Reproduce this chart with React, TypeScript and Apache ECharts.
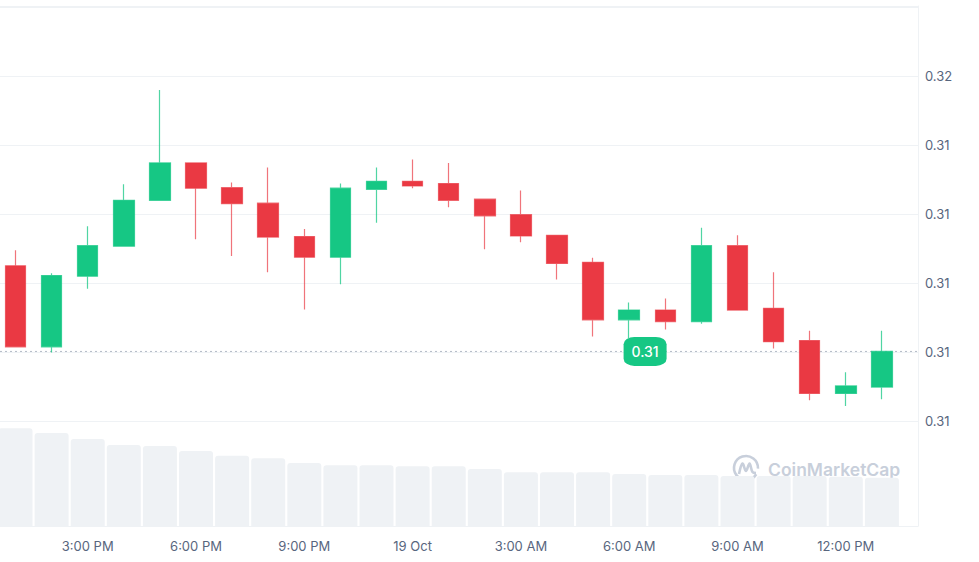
import React, { useEffect, useRef } from "react";
import * as echarts from "echarts";

const categories = [
  "1:00 PM", "2:00 PM", "3:00 PM", "4:00 PM", "5:00 PM", "6:00 PM", "7:00 PM", "8:00 PM",
  "9:00 PM", "10:00 PM", "11:00 PM", "19 Oct", "1:00 AM", "2:00 AM", "3:00 AM", "4:00 AM",
  "5:00 AM", "6:00 AM", "7:00 AM", "8:00 AM", "9:00 AM", "10:00 AM", "11:00 AM", "12:00 PM", "1:00 PM",
];
const opens = [
  0.3123, 0.31089, 0.31212, 0.31264, 0.31344, 0.31409, 0.31366, 0.31339, 0.31281, 0.31245,
  0.31363, 0.31377, 0.31373, 0.31346, 0.31319, 0.31283, 0.31236, 0.31136, 0.31153, 0.31133,
  0.31265, 0.31156, 0.311, 0.31008, 0.31019,
];
const highs = [
  0.31257, 0.31217, 0.31299, 0.31372, 0.31536, 0.31409, 0.31375, 0.31401, 0.31294, 0.31373,
  0.31401, 0.31415, 0.31409, 0.31346, 0.31361, 0.31283, 0.31244, 0.31166, 0.31173, 0.31296,
  0.31283, 0.31219, 0.31117, 0.31045, 0.31117,
];
const lows = [
  0.31088, 0.31079, 0.3119, 0.31264, 0.31344, 0.31276, 0.31247, 0.31219, 0.31154, 0.31198,
  0.31305, 0.31365, 0.31332, 0.31259, 0.31271, 0.31206, 0.31107, 0.31104, 0.31119, 0.31129,
  0.31153, 0.31086, 0.30996, 0.30986, 0.30998,
];
const closes = [
  0.31089, 0.31213, 0.31265, 0.31344, 0.31409, 0.31365, 0.31338, 0.3128, 0.31245, 0.31365,
  0.31377, 0.31369, 0.31344, 0.31317, 0.31282, 0.31234, 0.31136, 0.31153, 0.31133, 0.31265,
  0.31153, 0.31098, 0.31008, 0.31021, 0.31081,
];
const volumes = [
  9.77, 9.3, 8.7, 8.1, 8.0, 7.5, 7.03, 6.77, 6.3, 6.07, 6.07, 5.97, 5.97, 5.7, 5.37, 5.37,
  5.37, 5.2, 5.1, 5.1, 5.0, 5.0, 5.0, 4.93, 4.83,
];
const xTickIndices = [2, 5, 8, 11, 14, 17, 20, 23];

const GREEN = "#16c784";
const RED = "#ea3943";
const FONT = "Inter, 'Noto Sans', sans-serif";

export default function App() {
  const ref = useRef<HTMLDivElement>(null);
  useEffect(() => {
    if (!ref.current) return;
    const chart = echarts.init(ref.current, undefined, { renderer: "svg" });
    const candleData = categories.map((_, i) => [i, opens[i], closes[i], lows[i], highs[i]]);
    const volData = categories.map((_, i) => [i, volumes[i]]);
    const last = closes[closes.length - 1];
    const xMin = -0.43;
    const xMax = 25.0;
    const yMax = 0.31682;
    const option: any = {
      animation: false,
      backgroundColor: "#ffffff",
      textStyle: { fontFamily: FONT },
      grid: [
        { left: 0, right: 61, top: 6, height: 415 },
        { left: 0, right: 61, top: 421, height: 105 },
      ],
      xAxis: [
        {
          type: "value", gridIndex: 0, min: xMin, max: xMax, show: false,
          splitLine: { show: false },
        },
        {
          type: "value", gridIndex: 1, min: xMin, max: xMax,
          axisLine: { show: true, onZero: false, lineStyle: { color: "#eff2f5", width: 1 } },
          axisTick: { show: false },
          splitLine: { show: false },
          axisLabel: {
            customValues: xTickIndices,
            formatter: (v: number) => categories[Math.round(v)] ?? "",
            color: "#58667e", fontSize: 13, margin: 13, fontFamily: FONT,
          },
        },
      ],
      yAxis: [
        {
          type: "value", gridIndex: 0, position: "right",
          min: 0.3096, max: yMax, interval: 0.0012,
          axisLine: { show: true, onZero: false, lineStyle: { color: "#eff2f5" } },
          axisTick: { show: false },
          splitLine: { show: true, lineStyle: { color: "#eff2f5", width: 1 } },
          axisLabel: {
            formatter: (v: number) => (v > 0.3165 ? "" : v.toFixed(2)),
            color: "#58667e", fontSize: 13, margin: 7, fontFamily: FONT,
          },
        },
        {
          type: "value", gridIndex: 1, position: "right", min: 0, max: 10.5,
          axisLine: { show: true, onZero: false, lineStyle: { color: "#eff2f5" } },
          axisTick: { show: false },
          axisLabel: { show: false },
          splitLine: { show: false },
        },
      ],
      series: [
        {
          type: "bar",
          xAxisIndex: 1, yAxisIndex: 1,
          data: volData,
          barWidth: 34,
          itemStyle: { color: "#eff2f5", borderRadius: [3, 3, 0, 0] },
          silent: true,
        },
        {
          type: "line",
          xAxisIndex: 0, yAxisIndex: 0,
          data: [[xMin, last], [xMax, last]],
          symbol: "none",
          silent: true,
          z: 1,
          lineStyle: { type: [2, 3], color: "#b3bac6", width: 1 },
        },
        {
          type: "candlestick",
          xAxisIndex: 0, yAxisIndex: 0,
          data: candleData,
          encode: { x: 0, y: [1, 2, 3, 4] },
          barWidth: 21,
          itemStyle: {
            color: GREEN,
            color0: RED,
            borderColor: "rgba(22,199,132,0.75)",
            borderColor0: "rgba(234,57,67,0.7)",
            borderWidth: 1.2,
          },
          markPoint: {
            silent: true,
            symbol: "roundRect",
            symbolSize: [43, 29],
            itemStyle: { color: GREEN },
            label: {
              show: true, position: "inside", color: "#ffffff",
              fontSize: 14, fontWeight: 500, fontFamily: FONT,
              formatter: () => last.toFixed(2),
            },
            data: [{ coord: [17.44, last] }],
          },
        },
      ],
      graphic: [
        {
          type: "group",
          z: 50,
          silent: true,
          children: [
            {
              type: "arc",
              shape: { cx: 746, cy: 468, r: 12, startAngle: 0.55, endAngle: Math.PI * 2 + 0.05 },
              style: { stroke: "#c8cfdb", lineWidth: 2.6, fill: "none" },
            },
            {
              type: "polyline",
              shape: {
                points: [[739, 474], [742.5, 463.5], [746, 471], [749.5, 463.5], [752.5, 472], [756, 473]],
                smooth: 0.35,
              },
              style: { stroke: "#c8cfdb", lineWidth: 2.6, fill: "none" },
            },
            {
              type: "text",
              x: 768,
              y: 469,
              style: {
                text: "CoinMarketCap",
                fill: "#c8cfdb",
                font: `600 17.5px ${FONT}`,
                verticalAlign: "middle",
                align: "left",
              },
            },
          ],
        },
      ],
    };
    chart.setOption(option);
    return () => chart.dispose();
  }, []);
  return (
    <div
      ref={ref}
      style={{ position: "fixed", left: 0, top: 0, width: 979, height: 562 }}
    />
  );
}
